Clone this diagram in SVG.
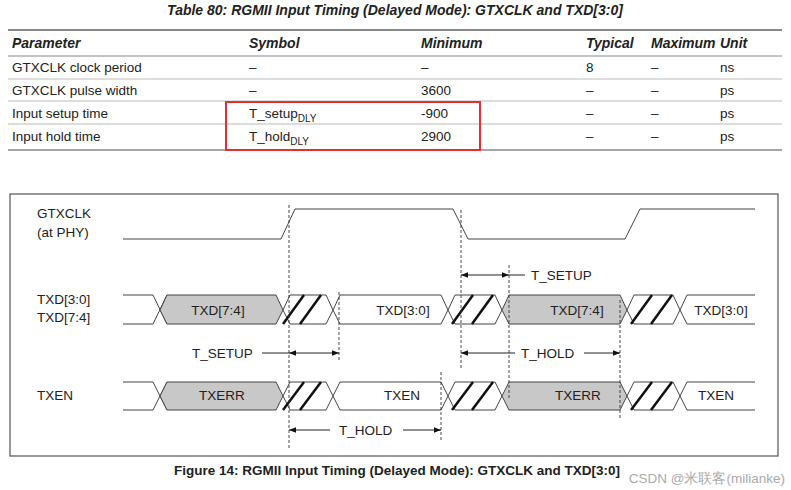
<svg xmlns="http://www.w3.org/2000/svg" width="791" height="490" viewBox="0 0 791 490">
<style>
text{font-family:"Liberation Sans",Arial,sans-serif;font-size:13.5px;fill:#222}
.h{font-weight:bold;font-style:italic;font-size:14px}
.w{fill:#fff;stroke:#444;stroke-width:1}
.g{fill:#c8c8c8;stroke:#444;stroke-width:1}
.ln{fill:none;stroke:#444;stroke-width:1}
.d{stroke:#333;stroke-width:0.9;stroke-dasharray:3,2}
.hz{stroke:#111;stroke-width:2.5}
.ar{stroke:#222;stroke-width:1;marker-end:url(#a)}
</style>
<defs><marker id="a" viewBox="0 0 10 10" refX="10" refY="5" markerWidth="11" markerHeight="7" orient="auto" markerUnits="userSpaceOnUse"><path d="M0,1L10,5L0,9z" fill="#111"/></marker></defs>
<rect width="791" height="490" fill="#fff"/>
<g id="table">
<text x="395" y="15" class="h" text-anchor="middle" font-size="14.5">Table 80:  RGMII Input Timing (Delayed Mode): GTXCLK and TXD[3:0]</text>
<line x1="8" y1="30" x2="782" y2="30" stroke="#888" stroke-width="2"/>
<line x1="8" y1="56" x2="782" y2="56" stroke="#888" stroke-width="1"/>
<line x1="8" y1="79" x2="782" y2="79" stroke="#bbb"/>
<line x1="8" y1="101" x2="782" y2="101" stroke="#bbb"/>
<line x1="8" y1="124" x2="782" y2="124" stroke="#bbb"/>
<line x1="8" y1="150" x2="782" y2="150" stroke="#888" stroke-width="1.5"/>
<text x="12" y="48" class="h">Parameter</text><text x="249" y="48" class="h">Symbol</text><text x="421" y="48" class="h">Minimum</text><text x="586" y="48" class="h">Typical</text><text x="651" y="48" class="h">Maximum</text><text x="720" y="48" class="h">Unit</text>
<text x="12" y="72">GTXCLK clock period</text><text x="249" y="72">–</text><text x="421" y="72">–</text><text x="586" y="72">8</text><text x="651" y="72">–</text><text x="720" y="72">ns</text>
<text x="12" y="95">GTXCLK pulse width</text><text x="249" y="95">–</text><text x="421" y="95">3600</text><text x="586" y="95">–</text><text x="651" y="95">–</text><text x="720" y="95">ps</text>
<text x="12" y="118">Input setup time</text><text x="249" y="118">T_setup<tspan font-size="10" dy="4">DLY</tspan></text><text x="421" y="118">-900</text><text x="586" y="118">–</text><text x="651" y="118">–</text><text x="720" y="118">ps</text>
<text x="12" y="141">Input hold time</text><text x="249" y="141">T_hold<tspan font-size="10" dy="4">DLY</tspan></text><text x="421" y="141">2900</text><text x="586" y="141">–</text><text x="651" y="141">–</text><text x="720" y="141">ps</text>
<rect x="226" y="102" width="254" height="48" fill="none" stroke="#e03030" stroke-width="2"/>
</g>
<rect x="10" y="194" width="768" height="262" fill="none" stroke="#555" stroke-width="1.2"/>
<g id="labels">
<text x="37" y="218">GTXCLK</text><text x="37" y="237">(at PHY)</text>
<text x="37" y="304">TXD[3:0]</text><text x="37" y="322">TXD[7:4]</text>
<text x="37" y="400">TXEN</text>
</g>
<g id="gtxclk"><path class="ln" d="M123,239H281L295,209H453L468,239H625L640,209H755"/></g>
<g id="txd">
<path class="ln" d="M123,295H153L167,324M123,324H153L167,295"/>
<path class="g" d="M160,310L167,295H276L283,310L276,324H167Z"/>
<path class="w" d="M283,310L290,295H326L333,310L326,324H290Z"/>
<line class="hz" x1="283" y1="324" x2="304" y2="295"/><line class="hz" x1="300" y1="324" x2="321" y2="295"/>
<path class="w" d="M333,310L340,295H441L448,310L441,324H340Z"/>
<path class="w" d="M448,310L455,295H495L502,310L495,324H455Z"/>
<line class="hz" x1="452" y1="324" x2="473" y2="295"/><line class="hz" x1="472" y1="324" x2="493" y2="295"/>
<path class="g" d="M502,310L509,295H620L627,310L620,324H509Z"/>
<path class="w" d="M627,310L634,295H673L680,310L673,324H634Z"/>
<line class="hz" x1="631" y1="324" x2="652" y2="295"/><line class="hz" x1="651" y1="324" x2="672" y2="295"/>
<path class="ln" d="M755,295H687L680,310L687,324H755"/>
<text x="218" y="315" text-anchor="middle">TXD[7:4]</text><text x="403" y="315" text-anchor="middle">TXD[3:0]</text>
<text x="577" y="315" text-anchor="middle">TXD[7:4]</text><text x="721" y="315" text-anchor="middle">TXD[3:0]</text>
</g>
<g id="txen">
<path class="ln" d="M123,382H153L167,410M123,410H153L167,382"/>
<path class="g" d="M160,396L167,382H276L283,396L276,410H167Z"/>
<path class="w" d="M283,396L290,382H326L333,396L326,410H290Z"/>
<line class="hz" x1="283" y1="410" x2="304" y2="382"/><line class="hz" x1="300" y1="410" x2="321" y2="382"/>
<path class="w" d="M333,396L340,382H441L448,396L441,410H340Z"/>
<path class="w" d="M448,396L455,382H495L502,396L495,410H455Z"/>
<line class="hz" x1="452" y1="410" x2="473" y2="382"/><line class="hz" x1="472" y1="410" x2="493" y2="382"/>
<path class="g" d="M502,396L509,382H620L627,396L620,410H509Z"/>
<path class="w" d="M627,396L634,382H673L680,396L673,410H634Z"/>
<line class="hz" x1="631" y1="410" x2="652" y2="382"/><line class="hz" x1="651" y1="410" x2="672" y2="382"/>
<path class="ln" d="M755,382H687L680,396L687,410H755"/>
<text x="222" y="400" text-anchor="middle">TXERR</text><text x="402" y="400" text-anchor="middle">TXEN</text>
<text x="578" y="400" text-anchor="middle">TXERR</text><text x="716" y="400" text-anchor="middle">TXEN</text>
</g>
<g id="connectors">
<line class="d" x1="289" y1="205" x2="289" y2="448"/>
<line class="d" x1="339" y1="292" x2="339" y2="360"/>
<line class="d" x1="461" y1="210" x2="461" y2="370"/>
<line class="d" x1="509" y1="265" x2="509" y2="400"/>
<line class="d" x1="620" y1="300" x2="620" y2="420"/>
<line class="d" x1="441" y1="372" x2="441" y2="440"/>
<line x1="262" y1="353" x2="289" y2="353" stroke="#222"/>
<line class="ar" x1="314" y1="353" x2="289" y2="353"/><line class="ar" x1="314" y1="353" x2="339" y2="353"/>
<text x="192" y="358">T_SETUP</text>
<line class="ar" x1="330" y1="430" x2="289" y2="430"/><text x="339" y="435">T_HOLD</text><line class="ar" x1="403" y1="430" x2="441" y2="430"/>
<line class="ar" x1="485" y1="275" x2="461" y2="275"/><line class="ar" x1="485" y1="275" x2="509" y2="275"/>
<line x1="509" y1="275" x2="525" y2="275" stroke="#222"/><text x="531" y="280">T_SETUP</text>
<line class="ar" x1="515" y1="353" x2="461" y2="353"/><text x="521" y="358">T_HOLD</text><line class="ar" x1="584" y1="353" x2="620" y2="353"/>
</g>
<text x="397" y="475" text-anchor="middle" font-weight="bold" font-size="14">Figure 14:  RGMII Input Timing (Delayed Mode): GTXCLK and TXD[3:0]</text>
<text x="785" y="483" text-anchor="end" font-size="11" style="fill:#aaa">CSDN @米联客(milianke)</text>
</svg>
